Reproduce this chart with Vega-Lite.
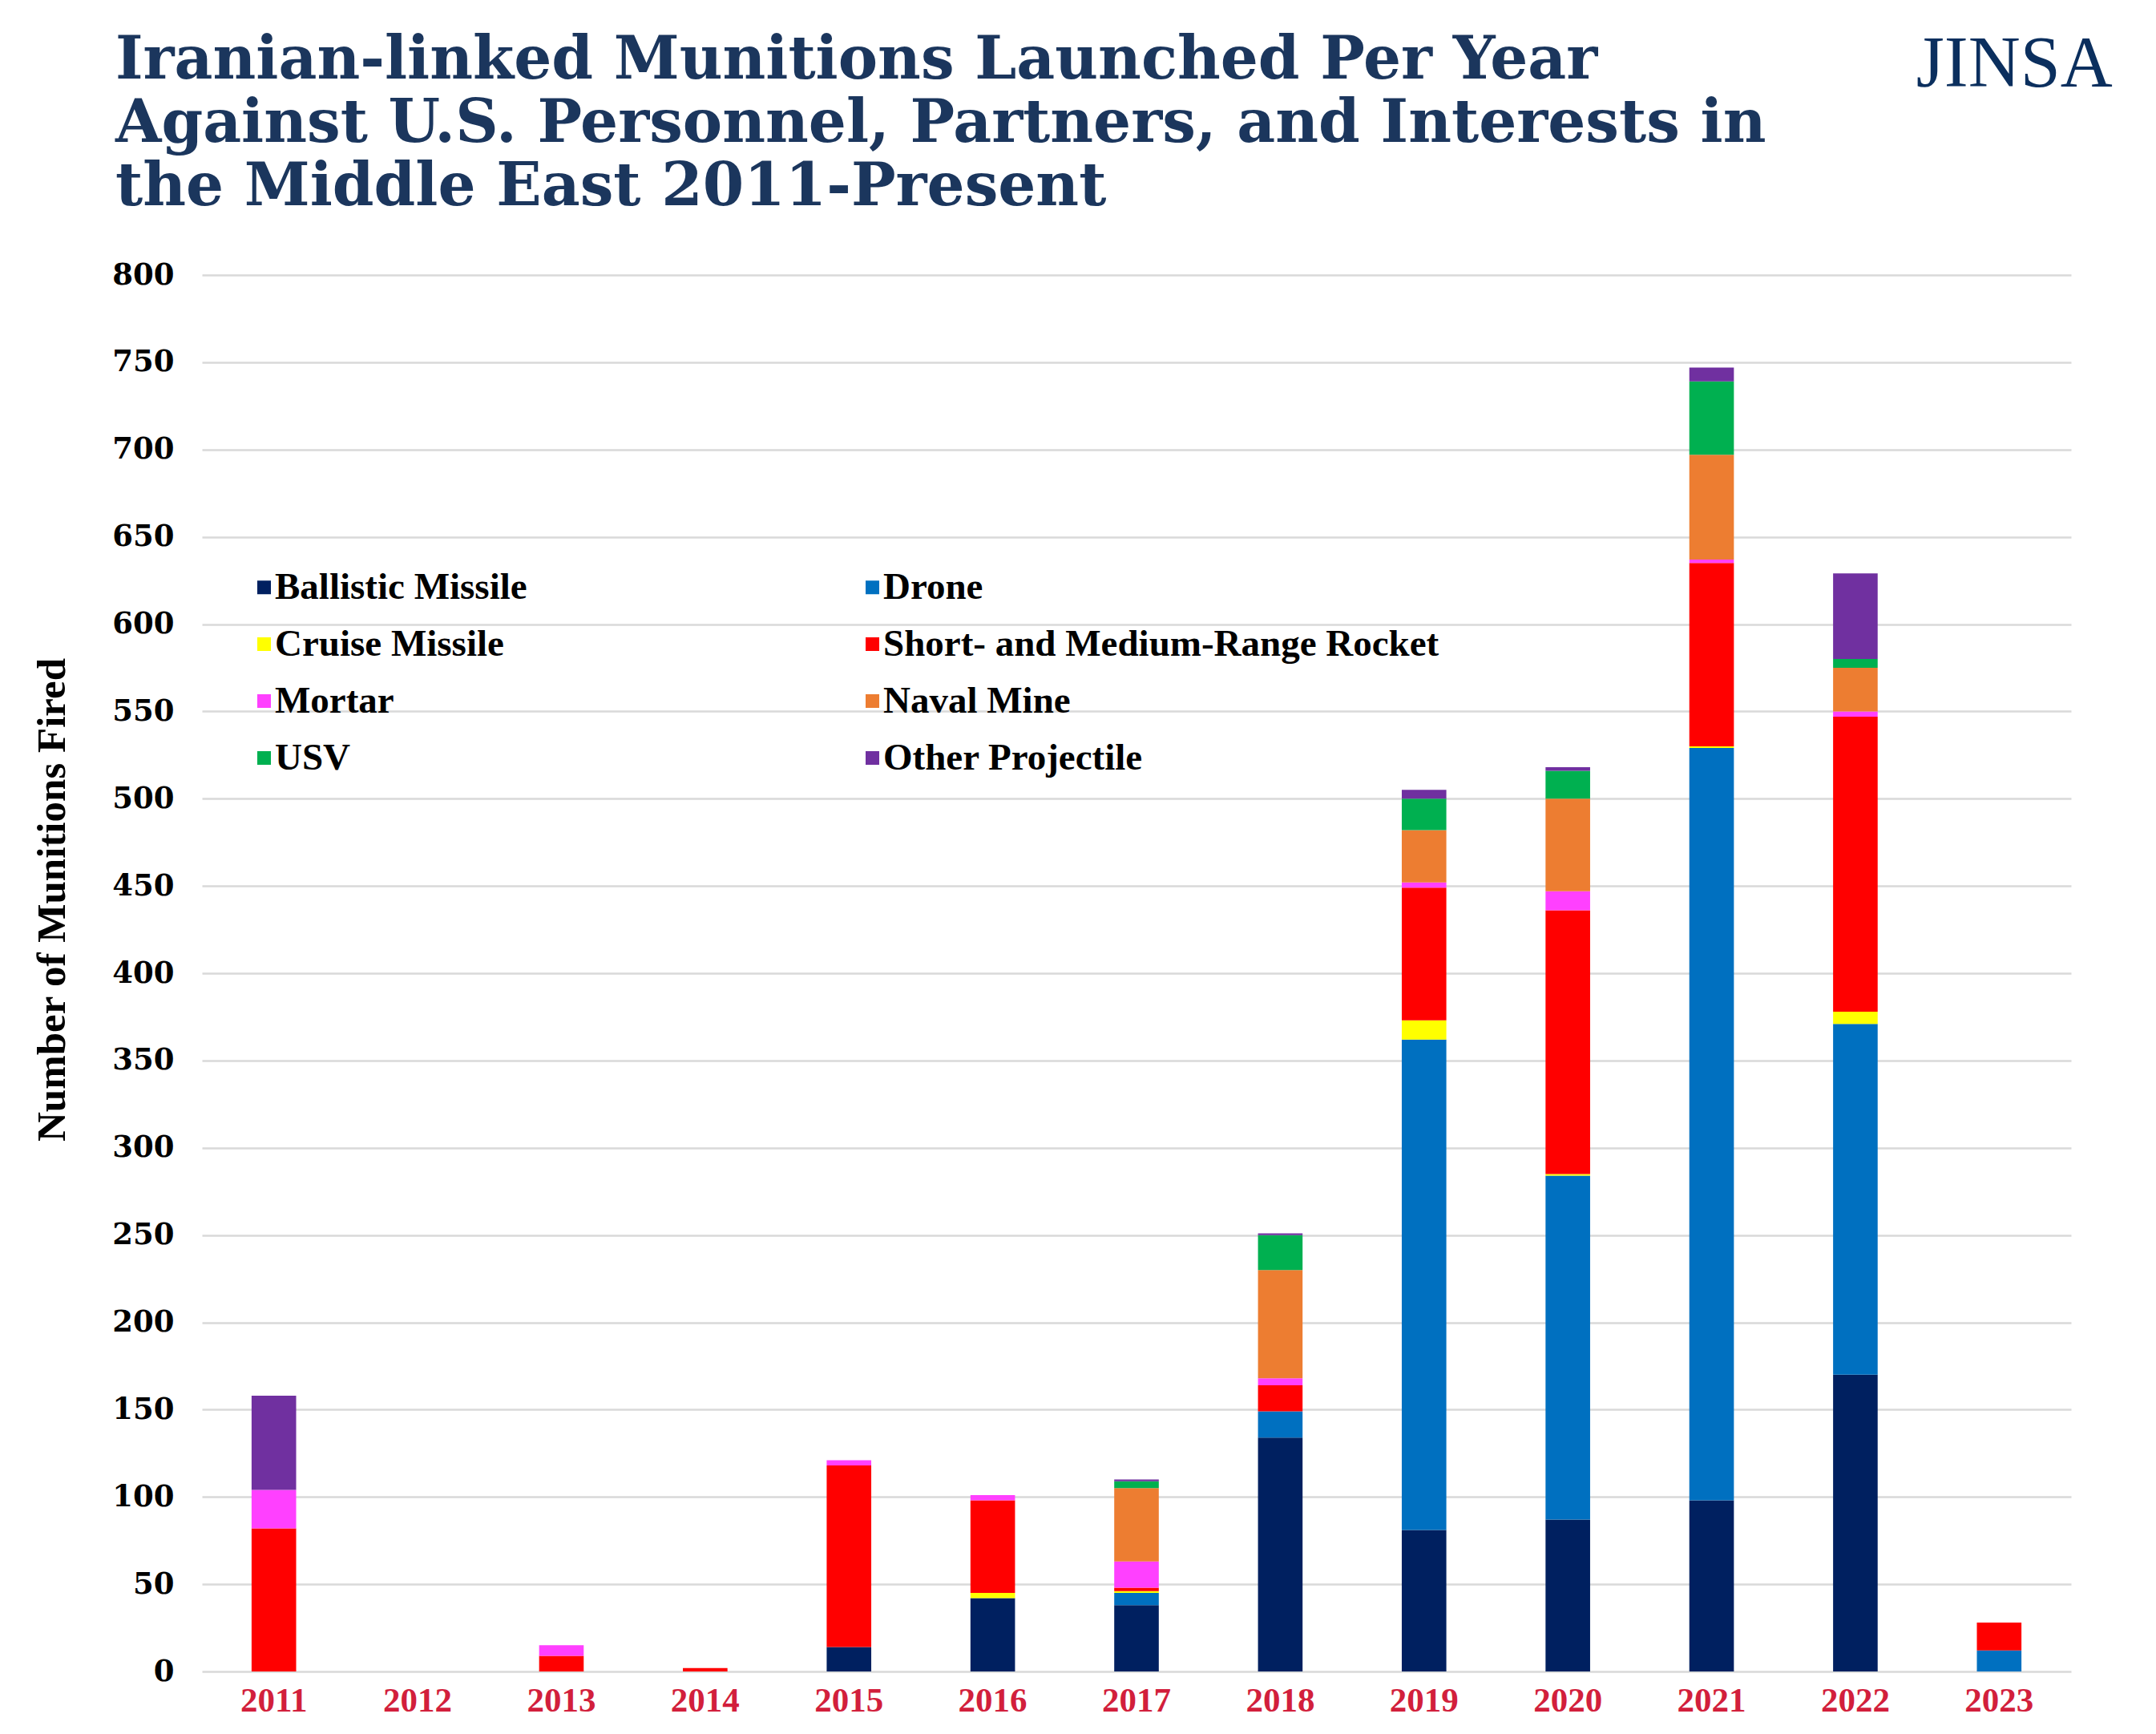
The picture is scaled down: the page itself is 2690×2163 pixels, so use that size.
{
  "$schema": "https://vega.github.io/schema/vega-lite/v6.json",
  "width": 2332,
  "height": 1742,
  "autosize": {"type": "none"},
  "padding": {"left": 252, "top": 343, "right": 106, "bottom": 78},
  "background": "white",
  "config": {"view": {"stroke": null}},
  "title": {
    "text": ["Iranian-linked Munitions Launched Per Year", "Against U.S. Personnel, Partners, and Interests in", "the Middle East 2011-Present"],
    "anchor": "start",
    "frame": "group",
    "dx": -108,
    "dy": 296,
    "offset": 60,
    "font": "DejaVu Serif",
    "fontSize": 74,
    "fontWeight": "bold",
    "color": "#1b365d",
    "lineHeight": 79
  },
  "layer": [
    {
      "data": {"values": [
        {"year": "2011", "type": "Short- and Medium-Range Rocket", "n": 82},
        {"year": "2011", "type": "Mortar", "n": 22},
        {"year": "2011", "type": "Other Projectile", "n": 54},
        {"year": "2013", "type": "Short- and Medium-Range Rocket", "n": 9},
        {"year": "2013", "type": "Mortar", "n": 6},
        {"year": "2014", "type": "Short- and Medium-Range Rocket", "n": 2},
        {"year": "2015", "type": "Ballistic Missile", "n": 14},
        {"year": "2015", "type": "Short- and Medium-Range Rocket", "n": 104},
        {"year": "2015", "type": "Mortar", "n": 3},
        {"year": "2016", "type": "Ballistic Missile", "n": 42},
        {"year": "2016", "type": "Cruise Missile", "n": 3},
        {"year": "2016", "type": "Short- and Medium-Range Rocket", "n": 53},
        {"year": "2016", "type": "Mortar", "n": 3},
        {"year": "2017", "type": "Ballistic Missile", "n": 38},
        {"year": "2017", "type": "Drone", "n": 7},
        {"year": "2017", "type": "Cruise Missile", "n": 1},
        {"year": "2017", "type": "Short- and Medium-Range Rocket", "n": 2},
        {"year": "2017", "type": "Mortar", "n": 15},
        {"year": "2017", "type": "Naval Mine", "n": 42},
        {"year": "2017", "type": "USV", "n": 4},
        {"year": "2017", "type": "Other Projectile", "n": 1},
        {"year": "2018", "type": "Ballistic Missile", "n": 134},
        {"year": "2018", "type": "Drone", "n": 15},
        {"year": "2018", "type": "Short- and Medium-Range Rocket", "n": 15},
        {"year": "2018", "type": "Mortar", "n": 4},
        {"year": "2018", "type": "Naval Mine", "n": 62},
        {"year": "2018", "type": "USV", "n": 20},
        {"year": "2018", "type": "Other Projectile", "n": 1},
        {"year": "2019", "type": "Ballistic Missile", "n": 81},
        {"year": "2019", "type": "Drone", "n": 281},
        {"year": "2019", "type": "Cruise Missile", "n": 11},
        {"year": "2019", "type": "Short- and Medium-Range Rocket", "n": 76},
        {"year": "2019", "type": "Mortar", "n": 3},
        {"year": "2019", "type": "Naval Mine", "n": 30},
        {"year": "2019", "type": "USV", "n": 18},
        {"year": "2019", "type": "Other Projectile", "n": 5},
        {"year": "2020", "type": "Ballistic Missile", "n": 87},
        {"year": "2020", "type": "Drone", "n": 197},
        {"year": "2020", "type": "Cruise Missile", "n": 1},
        {"year": "2020", "type": "Short- and Medium-Range Rocket", "n": 151},
        {"year": "2020", "type": "Mortar", "n": 11},
        {"year": "2020", "type": "Naval Mine", "n": 53},
        {"year": "2020", "type": "USV", "n": 16},
        {"year": "2020", "type": "Other Projectile", "n": 2},
        {"year": "2021", "type": "Ballistic Missile", "n": 98},
        {"year": "2021", "type": "Drone", "n": 431},
        {"year": "2021", "type": "Cruise Missile", "n": 1},
        {"year": "2021", "type": "Short- and Medium-Range Rocket", "n": 105},
        {"year": "2021", "type": "Mortar", "n": 2},
        {"year": "2021", "type": "Naval Mine", "n": 60},
        {"year": "2021", "type": "USV", "n": 42},
        {"year": "2021", "type": "Other Projectile", "n": 8},
        {"year": "2022", "type": "Ballistic Missile", "n": 170},
        {"year": "2022", "type": "Drone", "n": 201},
        {"year": "2022", "type": "Cruise Missile", "n": 7},
        {"year": "2022", "type": "Short- and Medium-Range Rocket", "n": 169},
        {"year": "2022", "type": "Mortar", "n": 3},
        {"year": "2022", "type": "Naval Mine", "n": 25},
        {"year": "2022", "type": "USV", "n": 5},
        {"year": "2022", "type": "Other Projectile", "n": 49},
        {"year": "2023", "type": "Drone", "n": 12},
        {"year": "2023", "type": "Short- and Medium-Range Rocket", "n": 16}
      ]},
      "transform": [
        {"calculate": "indexof(['Ballistic Missile', 'Drone', 'Cruise Missile', 'Short- and Medium-Range Rocket', 'Mortar', 'Naval Mine', 'USV', 'Other Projectile'], datum.type)", "as": "stackRank"}
      ],
      "mark": {"type": "bar"},
      "encoding": {
        "x": {
          "field": "year",
          "type": "nominal",
          "title": null,
          "scale": {
            "domain": ["2011", "2012", "2013", "2014", "2015", "2016", "2017", "2018", "2019", "2020", "2021", "2022", "2023"],
            "paddingInner": 0.69,
            "paddingOuter": 0.345
          },
          "axis": {
            "labelAngle": 0,
            "domain": false,
            "ticks": false,
            "grid": false,
            "labelFont": "Liberation Serif",
            "labelFontWeight": "bold",
            "labelFontSize": 43,
            "labelColor": "#d21f3c",
            "labelPadding": 15
          }
        },
        "y": {
          "field": "n",
          "type": "quantitative",
          "stack": "zero",
          "scale": {"domain": [0, 800], "nice": false},
          "axis": {
            "values": [0, 50, 100, 150, 200, 250, 300, 350, 400, 450, 500, 550, 600, 650, 700, 750, 800],
            "domain": false,
            "ticks": false,
            "grid": true,
            "gridColor": "#d9d9d9",
            "gridWidth": 2.5,
            "labelFont": "DejaVu Serif",
            "labelFontWeight": "bold",
            "labelFontSize": 37,
            "labelColor": "#000000",
            "labelPadding": 35,
            "title": "Number of Munitions Fired",
            "titleFont": "Liberation Serif",
            "titleFontWeight": "bold",
            "titleFontSize": 51,
            "titleColor": "#000000",
            "titleX": -187,
            "titleY": 779,
            "titleBaseline": "middle",
            "titleAngle": -90
          }
        },
        "order": {"field": "stackRank", "type": "quantitative", "sort": "ascending"},
        "color": {
          "field": "type",
          "type": "nominal",
          "sort": ["Ballistic Missile", "Drone", "Cruise Missile", "Short- and Medium-Range Rocket", "Mortar", "Naval Mine", "USV", "Other Projectile"],
          "scale": {
            "domain": ["Ballistic Missile", "Drone", "Cruise Missile", "Short- and Medium-Range Rocket", "Mortar", "Naval Mine", "USV", "Other Projectile"],
            "range": ["#002060", "#0070c0", "#ffff00", "#ff0000", "#ff40ff", "#ed7d31", "#00b050", "#7030a0"]
          },
          "legend": {
            "title": null,
            "orient": "none",
            "legendX": 54,
            "legendY": 366,
            "columns": 2,
            "direction": "horizontal",
            "padding": 0,
            "columnPadding": 407,
            "rowPadding": 23,
            "symbolType": "square",
            "symbolSize": 289,
            "symbolStrokeWidth": 0,
            "labelFont": "Liberation Serif",
            "labelFontWeight": "bold",
            "labelFontSize": 47,
            "labelColor": "#000000",
            "labelOffset": -10,
            "labelLimit": 1000
          }
        }
      }
    },
    {
      "data": {"values": [{"label": "JINSA"}]},
      "mark": {"type": "text", "font": "Liberation Serif", "fontSize": 90, "color": "#0b2f5e", "baseline": "alphabetic", "align": "center", "dx": 19},
      "encoding": {
        "x": {"datum": "2023", "type": "nominal"},
        "y": {"datum": 908, "type": "quantitative"},
        "text": {"field": "label", "type": "nominal"}
      }
    }
  ]
}
